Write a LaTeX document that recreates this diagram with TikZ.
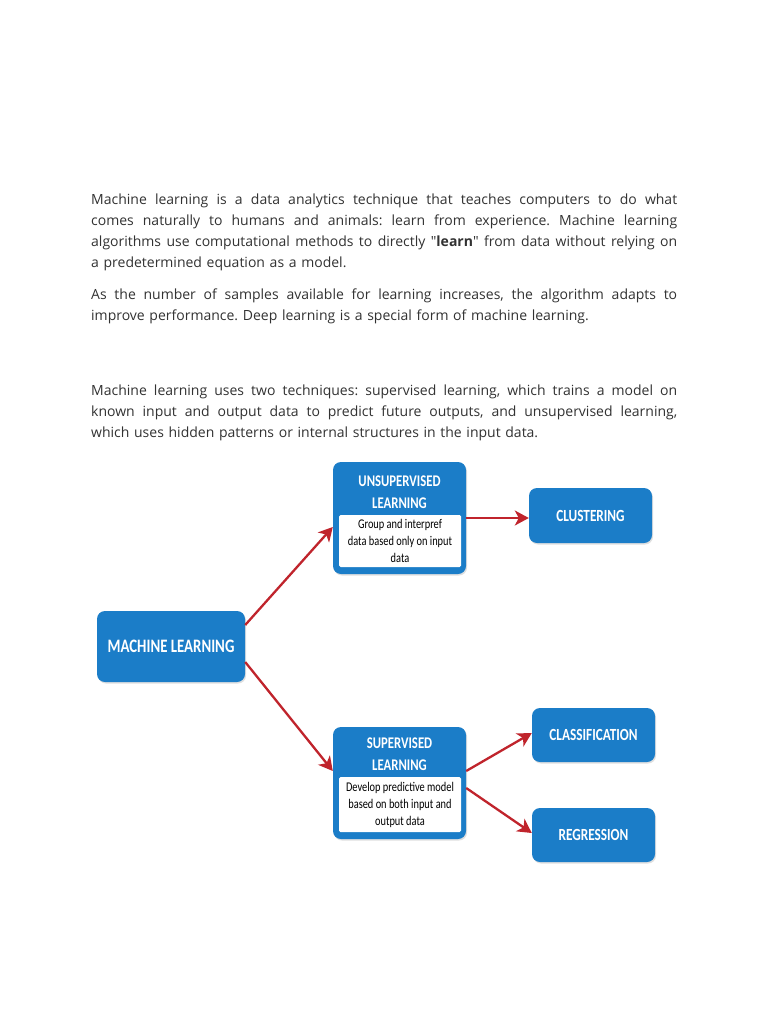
\documentclass[tikz,border=0pt]{standalone}
\usepackage{fontspec}
\setmainfont{Open Sans}[Ligatures=TeXOff]
\newfontfamily\diagfont[FakeStretch=0.78]{Carlito}
\usetikzlibrary{arrows.meta,shadows}
\definecolor{boxblue}{RGB}{27,125,200}
\definecolor{arrowred}{RGB}{192,36,44}
\definecolor{textgray}{RGB}{50,50,50}
\newcommand{\jline}[1]{\leavevmode\hbox to 586pt{\spaceskip=0.26em plus 1fil\xspaceskip=0.26em plus 1fil\relax #1}\\}
\begin{document}
\frenchspacing
\begin{tikzpicture}[x=1pt,y=-1pt,
  body/.style={anchor=north west, inner sep=0pt, text width=586pt, align=left,
    font=\frenchspacing\fontsize{14}{21}\selectfont, text=textgray},
  bluebox/.style={fill=boxblue, rounded corners=8pt, text=white, align=center,
    inner sep=0pt, font=\diagfont\bfseries\fontsize{17}{22}\selectfont,
    drop shadow={shadow xshift=1pt, shadow yshift=-1.5pt, opacity=0.25}},
  titletext/.style={text=white, align=center, inner sep=0pt,
    font=\diagfont\bfseries\fontsize{16.3}{22}\selectfont},
  innerbox/.style={fill=white, rounded corners=1.5pt, inner sep=0pt, text=black,
    align=center, font=\diagfont\fontsize{13.3}{17}\selectfont},
  link/.style={draw=arrowred, line width=2.3pt, -{Stealth[length=14pt,width=15pt,inset=4pt]}}
]
\useasboundingbox[fill=white] (0,0) rectangle (768,1024);

% body text
\node[body] (p1) at (91,194) {%
\jline{Machine learning is a data analytics technique that teaches computers to do what}
\jline{comes naturally to humans and animals: learn from experience. Machine learning}
\jline{algorithms use computational methods to directly "\textbf{learn}" from data without relying on}
a predetermined equation as a model.};
\node[body] (p2) at (91,289) {%
\jline{As the number of samples available for learning increases, the algorithm adapts to}
improve performance. Deep learning is a special form of machine learning.};
\node[body] (p3) at (91,385) {%
\jline{Machine learning uses two techniques: supervised learning, which trains a model on}
\jline{known input and output data to predict future outputs, and unsupervised learning,}
which uses hidden patterns or internal structures in the input data.};

% diagram boxes
\node[bluebox, minimum width=148pt, minimum height=71pt,
  font=\diagfont\bfseries\fontsize{19}{20}\selectfont] (ml) at (171,646.5) {MACHINE LEARNING};

\node[bluebox, minimum width=133pt, minimum height=112pt] (unsup) at (399.5,518) {};
\node[titletext] (unsupt) at (399.5,492) {UNSUPERVISED\\LEARNING};
\node[innerbox, minimum width=122pt, minimum height=52pt] (unsupi) at (400,541)
  {Group and interpref\\data based only on input\\data};

\node[bluebox, minimum width=123pt, minimum height=55pt] (clus) at (590.5,515.5) {CLUSTERING};

\node[bluebox, minimum width=133pt, minimum height=112pt] (sup) at (399.5,783) {};
\node[titletext] (supt) at (399.5,754) {SUPERVISED\\LEARNING};
\node[innerbox, minimum width=122pt, minimum height=55pt] (supi) at (400,804.5)
  {Develop predictive model\\based on both input and\\output data};

\node[bluebox, minimum width=123pt, minimum height=54pt] (clas) at (593.5,735) {CLASSIFICATION};
\node[bluebox, minimum width=123pt, minimum height=54pt] (reg) at (593.5,835) {REGRESSION};

% connectors
\draw[link] ([yshift=21.5pt]ml.east) -- ([yshift=-9pt]unsup.west);
\draw[link] ([yshift=-15.5pt]ml.east) -- ([yshift=12pt]sup.west);
\draw[link] (unsup.east) -- ([yshift=-2.5pt]clus.west);
\draw[link] ([yshift=12pt]sup.east) -- ([yshift=2pt]clas.west);
\draw[link] ([yshift=-5pt]sup.east) -- ([yshift=2pt]reg.west);
\end{tikzpicture}
\end{document}
